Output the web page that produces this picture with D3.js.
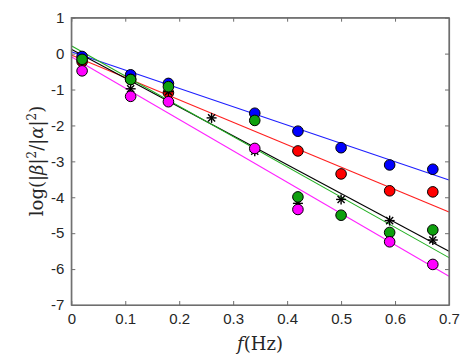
<!DOCTYPE html>
<html><head><meta charset="utf-8">
<script src="https://cdn.jsdelivr.net/npm/d3@7"></script>
<style>body{margin:0;background:#fff}svg{display:block}</style>
</head><body>
<script>
// ---- data ----
const freqs = [0.02, 0.11, 0.18, 0.34, 0.42, 0.50, 0.59, 0.67];
const blueVals    = [-0.08, -0.59, -0.83, -1.66, -2.16, -2.62, -3.10, -3.22];
const redVals     = [-0.22, -0.72, -1.09, null,  -2.71, -3.35, -3.82, -3.85];
const greenVals   = [-0.16, -0.72, -0.92, -1.86, -3.99, -4.50, -4.98, -4.91];
const magentaVals = [-0.48, -1.19, -1.34, -2.64, -4.34, null,  -5.24, -5.87];
const starFreqs = [0.02, 0.11, 0.18, 0.26, 0.34, 0.42, 0.50, 0.59, 0.67];
const starVals  = [-0.20, -0.98, -1.06, -1.79, -2.72, -4.17, -4.06, -4.65, -5.19];
// fitted lines: [intercept, slope]
const fitBlue = [0.05, -5.10];
const fitRed = [-0.04, -6.24];
const fitBlack = [0.12, -8.03];
const fitGreen = [0.22, -8.43];
const fitMagenta = [-0.09, -8.73];
const xTicks = [0, 0.1, 0.2, 0.3, 0.4, 0.5, 0.6, 0.7];
const yTicks = [1, 0, -1, -2, -3, -4, -5, -6, -7];

const W = 474, H = 356;
const svg = d3.select("body").append("svg").attr("width", W).attr("height", H);
const x = d3.scaleLinear().domain([0, 0.7]).range([71.3, 449]);
const y = d3.scaleLinear().domain([-7, 1]).range([305, 17.7]);

const axisColor = "#6e6e6e";
const g = svg.append("g");

// fit lines
const fits = [[fitBlue, "#1f1fff"], [fitRed, "#ff1f1f"], [fitBlack, "#000"], [fitGreen, "#22b022"], [fitMagenta, "#ff22ff"]];
fits.forEach(([f, c]) => {
  g.append("line")
    .attr("x1", x(0)).attr("y1", y(f[0]))
    .attr("x2", x(0.7)).attr("y2", y(f[0] + f[1] * 0.7))
    .attr("stroke", c).attr("stroke-width", 1.1);
});

function circles(vals, fill) {
  g.append("g").selectAll("circle")
    .data(freqs.map((f, i) => [f, vals[i]]).filter(d => d[1] !== null))
    .join("circle")
    .attr("cx", d => x(d[0])).attr("cy", d => y(d[1]))
    .attr("r", 5.3).attr("fill", fill).attr("stroke", "#000").attr("stroke-width", 1);
}
circles(blueVals, "#0000ff");
circles(redVals, "#ff0000");

// asterisks
const star = g.append("g").selectAll("g")
  .data(starFreqs.map((f, i) => [f, starVals[i]]))
  .join("g")
  .attr("transform", d => `translate(${x(d[0])},${y(d[1])})`);
[0, 45, 90, 135].forEach(a => {
  star.append("line")
    .attr("x1", -5).attr("x2", 5).attr("y1", 0).attr("y2", 0)
    .attr("transform", `rotate(${a})`)
    .attr("stroke", "#000").attr("stroke-width", 1.4);
});

circles(greenVals, "#0ea00e");
circles(magentaVals, "#ff00ff");

// box
svg.append("rect").attr("x", x(0)).attr("y", y(1))
  .attr("width", x(0.7) - x(0)).attr("height", y(-7) - y(1))
  .attr("fill", "none").attr("stroke", axisColor).attr("stroke-width", 1.2);

// axes with inward ticks
const xa = svg.append("g").attr("transform", `translate(0,${y(-7)})`)
  .call(d3.axisBottom(x).tickValues(xTicks).tickSizeInner(-4).tickSizeOuter(0).tickPadding(8)
    .tickFormat(d => d === 0 ? "0" : d3.format(".1f")(d)));
const xt = svg.append("g").attr("transform", `translate(0,${y(1)})`)
  .call(d3.axisTop(x).tickValues(xTicks).tickSizeInner(-4).tickSizeOuter(0).tickFormat(""));
const ya = svg.append("g").attr("transform", `translate(${x(0)},0)`)
  .call(d3.axisLeft(y).tickValues(yTicks).tickSizeInner(-4).tickSizeOuter(0).tickPadding(7)
    .tickFormat(d => d < 0 ? "-" + Math.abs(d) : String(d)));
const yr = svg.append("g").attr("transform", `translate(${x(0.7)},0)`)
  .call(d3.axisRight(y).tickValues(yTicks).tickSizeInner(-4).tickSizeOuter(0).tickFormat(""));
[xa, xt, ya, yr].forEach(a => {
  a.select(".domain").attr("stroke", axisColor).attr("stroke-width", 1.2);
  a.selectAll(".tick line").attr("stroke", axisColor);
  a.selectAll("text").attr("font-family", "'Liberation Sans', Arial, sans-serif")
    .attr("font-size", 15).attr("fill", "#262626");
});

// axis labels
svg.append("text")
  .attr("x", 260).attr("y", 350)
  .attr("text-anchor", "middle")
  .attr("font-family", "'DejaVu Serif', 'Liberation Serif', serif")
  .attr("font-size", 18).attr("fill", "#262626")
  .html('<tspan font-style="italic">f</tspan>(Hz)');

svg.append("text")
  .attr("transform", "translate(43,161) rotate(-90)")
  .attr("text-anchor", "middle")
  .attr("font-family", "'DejaVu Serif', 'Liberation Serif', serif")
  .attr("font-size", 18).attr("fill", "#262626")
  .html('log(|<tspan font-style="italic">β</tspan>|<tspan dy="-7" font-size="12">2</tspan><tspan dy="7">/|</tspan><tspan font-style="italic">α</tspan>|<tspan dy="-7" font-size="12">2</tspan><tspan dy="7">)</tspan>');
</script>
</body></html>
